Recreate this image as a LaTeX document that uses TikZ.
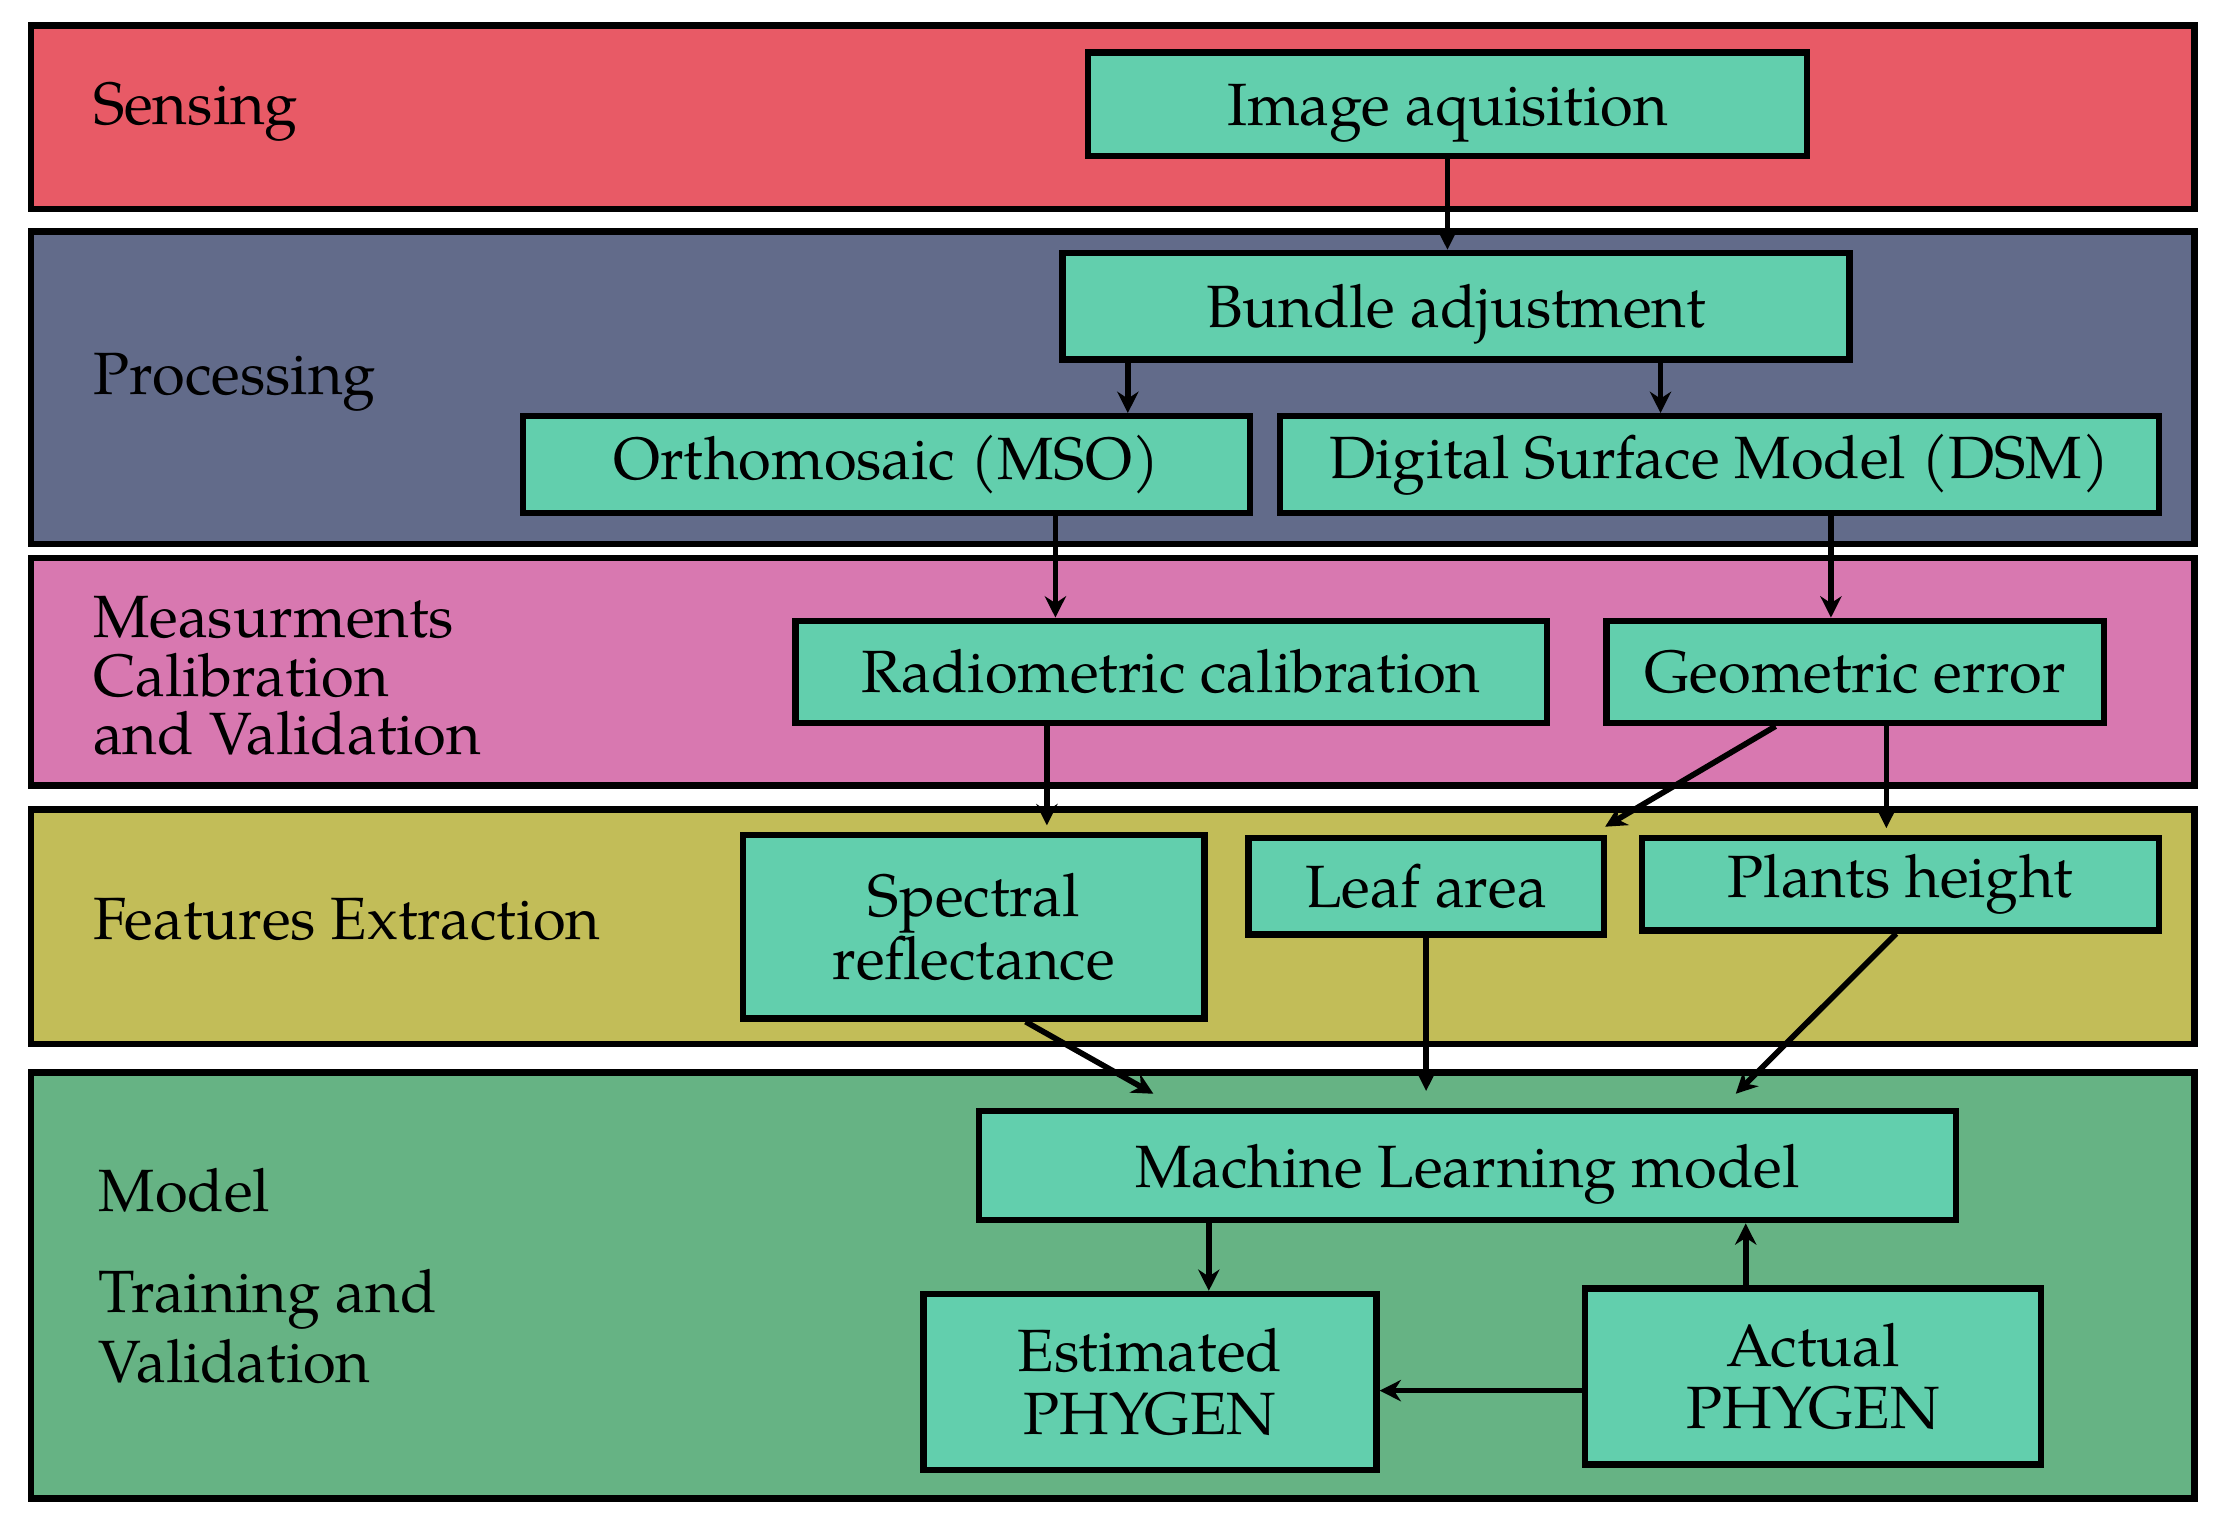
\documentclass[tikz,border=0pt]{standalone}
\usepackage{fontspec}
\setmainfont{TeX Gyre Pagella}
\usetikzlibrary{arrows.meta}
\begin{document}
\begin{tikzpicture}[x=1pt,y=-1pt,
 band/.style={draw=black,line width=4.5pt},
 box/.style={draw=black,line width=4.5pt,fill=boxc,inner sep=0pt,align=center,font=\fontsize{42}{44}\selectfont},
 lab/.style={anchor=west,align=left,font=\fontsize{42}{41}\selectfont},
 arr/.style={line width=4pt,-{Stealth[length=15pt,width=15pt]}}]
\definecolor{boxc}{HTML}{62CFAD}
\useasboundingbox (0,0) rectangle (1565,1071);
\fill[white] (0,0) rectangle (1565,1071);
\filldraw[band,fill={rgb,255:red,232;green,90;blue,102}] (22,18) rectangle (1545,147);
\filldraw[band,fill={rgb,255:red,98;green,107;blue,138}] (22,163) rectangle (1545,383);
\filldraw[band,fill={rgb,255:red,216;green,120;blue,176}] (22,393) rectangle (1545,553);
\filldraw[band,fill={rgb,255:red,194;green,189;blue,88}] (22,570) rectangle (1545,735);
\filldraw[band,fill={rgb,255:red,102;green,179;blue,132}] (22,755) rectangle (1545,1055);
\node[lab] (l1) at (62,79) {Sensing};
\node[lab] (l2) at (62,269) {Processing};
\node[lab] (l3) at (62,476) {Measurments\\Calibration\\and Validation};
\node[lab] (l4) at (62,647) {Features Extraction};
\node[lab] (l5) at (66,838) {Model};
\node[lab] (l6) at (66,934) {Training and\\[6pt]Validation};
\node[box,minimum width=506,minimum height=73,text depth=-4pt] (img) at (1019,73.5) {Image aquisition};
\node[box,minimum width=554,minimum height=75,text depth=-4pt] (bun) at (1025,215.5) {Bundle adjustment};
\node[box,minimum width=512,minimum height=68] (ort) at (624,327) {Orthomosaic (MSO)};
\node[box,minimum width=619,minimum height=68] (dsm) at (1210.5,327) {Digital Surface Model (DSM)};
\node[box,minimum width=529,minimum height=72] (rad) at (824.5,473) {Radiometric calibration};
\node[box,minimum width=350,minimum height=72] (geo) at (1306,473) {Geometric error};
\node[box,minimum width=325,minimum height=129] (spe) at (685.5,652.5) {Spectral\\reflectance};
\node[box,minimum width=250,minimum height=68] (lea) at (1004,624) {Leaf area};
\node[box,minimum width=364,minimum height=65] (pla) at (1338,622.5) {Plants height};
\node[box,minimum width=688,minimum height=77,text depth=-4pt] (ml) at (1033,820.5) {Machine Learning model};
\node[box,minimum width=319,minimum height=124] (est) at (809.5,973) {Estimated\\PHYGEN};
\node[box,minimum width=321,minimum height=124] (act) at (1276.5,969) {Actual\\PHYGEN};
\draw[arr] (img.south) -- (img.south |- bun.north);
\draw[arr] (bun.south -| 794,0) -- (ort.north -| 794,0);
\draw[arr] (bun.south -| 1169,0) -- (dsm.north -| 1169,0);
\draw[arr] (ort.south -| 743,0) -- (rad.north -| 743,0);
\draw[arr] (dsm.south -| 1289,0) -- (geo.north -| 1289,0);
\draw[arr] (rad.south -| 737,0) -- (737,581);
\draw[arr] (geo.south -| 1250,0) -- (1130,582);
\draw[arr] (geo.south -| 1328,0) -- (1328,583);
\draw[arr] (spe.south -| 722,0) -- (812,770);
\draw[arr] (lea.south) -- (1004,768);
\draw[arr] (pla.south -| 1335,0) -- (1222,770);
\draw[arr] (ml.south -| 851,0) -- (est.north -| 851,0);
\draw[arr] (act.north -| 1229,0) -- (ml.south -| 1229,0);
\draw[arr] (act.west |- 0,979) -- (est.east |- 0,979);
\end{tikzpicture}
\end{document}
